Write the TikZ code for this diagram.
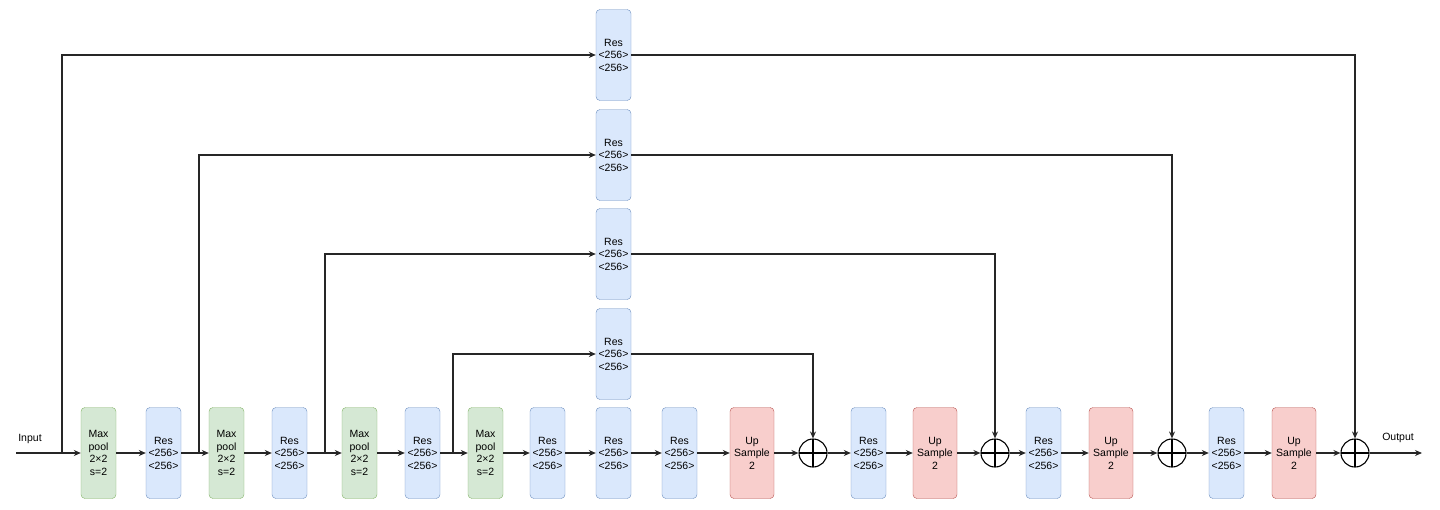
\documentclass[tikz,border=0pt]{standalone}
\usepackage{fontspec}
\setmainfont{Liberation Sans}
\usetikzlibrary{arrows.meta}
\definecolor{gf}{HTML}{D5E8D4}\definecolor{gd}{HTML}{82B366}
\definecolor{bf}{HTML}{DAE8FC}\definecolor{bd}{HTML}{6C8EBF}
\definecolor{rf}{HTML}{F8CECC}\definecolor{rd}{HTML}{B85450}
\begin{document}
\begin{tikzpicture}[x=1pt,y=-1pt,
 box/.style={rounded corners=4pt,minimum height=91pt,inner sep=0pt,align=center,font=\fontsize{10.5}{12.5}\selectfont},
 pool/.style={box,fill=gf,draw=gd,minimum width=35pt},
 res/.style={box,fill=bf,draw=bd,minimum width=35pt},
 up/.style={box,fill=rf,draw=rd,minimum width=44pt},
 sum/.style={circle,draw,line width=1.1pt,minimum size=28pt,inner sep=0pt,path picture={\draw[line width=1.1pt] (path picture bounding box.north)--(path picture bounding box.south) (path picture bounding box.west)--(path picture bounding box.east);}},
 arr/.style={-{Stealth[length=7pt,width=6pt]},line width=1.1pt,black!85}]
\useasboundingbox (0,0) rectangle (1440,509);
\def\rt{Res\\<256>\\<256>}
\def\pt{Max\\pool\\2×2\\s=2}
\def\ut{Up\\Sample\\2}
\node[pool] (p1) at (98.5,453) {\pt};
\node[res] (r1) at (163.5,453) {\rt};
\node[pool] (p2) at (226.5,453) {\pt};
\node[res] (r2) at (289.5,453) {\rt};
\node[pool] (p3) at (359.5,453) {\pt};
\node[res] (r3) at (422.5,453) {\rt};
\node[pool] (p4) at (485.5,453) {\pt};
\node[res] (r4) at (547.5,453) {\rt};
\node[res] (r5) at (613.5,453) {\rt};
\node[res] (r6) at (679.5,453) {\rt};
\node[up] (u1) at (752,453) {\ut};
\node[sum] (s1) at (813,453) {};
\node[res] (r7) at (868.5,453) {\rt};
\node[up] (u2) at (935,453) {\ut};
\node[sum] (s2) at (995,453) {};
\node[res] (r8) at (1043.5,453) {\rt};
\node[up] (u3) at (1111,453) {\ut};
\node[sum] (s3) at (1172,453) {};
\node[res] (r9) at (1226.5,453) {\rt};
\node[up] (u4) at (1294,453) {\ut};
\node[sum] (s4) at (1355,453) {};
\node[res] (t1) at (613.5,55) {\rt};
\node[res] (t2) at (613.5,155) {\rt};
\node[res] (t3) at (613.5,254) {\rt};
\node[res] (t4) at (613.5,354) {\rt};
\coordinate (in) at (16,453);
\coordinate (out) at (1422,453);
\node[font=\fontsize{10.5}{12.5}\selectfont] at (30,439) {Input};
\node[font=\fontsize{10.5}{12.5}\selectfont] at (1398,438) {Output};
\draw[arr] (in) -- (p1);
\foreach \a/\b in {p1/r1,r1/p2,p2/r2,r2/p3,p3/r3,r3/p4,p4/r4,r4/r5,r5/r6,r6/u1,u1/s1,s1/r7,r7/u2,u2/s2,s2/r8,r8/u3,u3/s3,s3/r9,r9/u4,u4/s4,s4/out}
 \draw[arr] (\a) -- (\b);
\draw[arr] (62,453) |- (t1);
\draw[arr] (199,453) |- (t2);
\draw[arr] (325,453) |- (t3);
\draw[arr] (453,453) |- (t4);
\draw[arr] (t1) -| (s4);
\draw[arr] (t2) -| (s3);
\draw[arr] (t3) -| (s2);
\draw[arr] (t4) -| (s1);
\end{tikzpicture}
\end{document}
